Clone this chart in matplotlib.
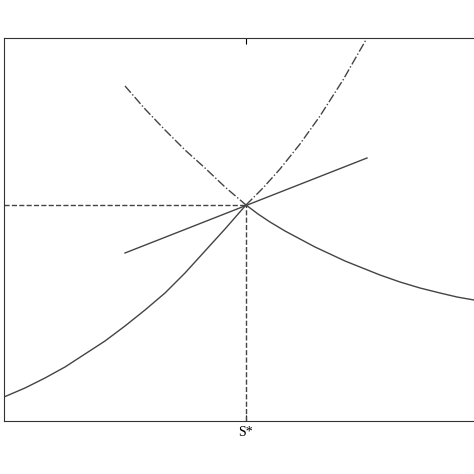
import matplotlib
matplotlib.use("Agg")
import matplotlib.pyplot as plt

# values in pixel-like data units (y measured upward from bottom of axes)
left_x = [4, 25, 45, 65, 85, 105, 125, 145, 165, 185, 205, 225, 246]
left_y = [24, 33, 43, 54, 67, 80, 95, 111, 128, 148, 170, 192, 216]
right_x = [246, 258, 270, 285, 300, 315, 330, 345, 360, 380, 400, 420, 440, 457, 474]
right_y = [216, 207, 199, 190, 182, 174, 167, 160, 154, 146, 139, 133, 128, 124, 121]
lin_x = [125, 367]
lin_y = [168, 263]
dd_left_x = [125, 145, 165, 185, 205, 225, 246]
dd_left_y = [335, 312, 291, 271, 253, 234, 216]
dd_right_x = [246, 263, 280, 300, 320, 343, 367]
dd_right_y = [216, 233, 252, 277, 305, 341, 383]
s_star = 246
s_level = 216
xticks = [246]
xlabels = ["S*"]

fig = plt.figure(figsize=(4.74, 4.74), dpi=100)
ax = fig.add_axes([4/474, 53/474, 476/474, 383/474])
ax.set_xlim(4, 480)
ax.set_ylim(0, 383)
c = "#444444"
ax.plot(left_x, left_y, color=c, lw=1)
ax.plot(right_x, right_y, color=c, lw=1)
ax.plot(lin_x, lin_y, color=c, lw=1)
ax.plot(dd_left_x, dd_left_y, color=c, lw=1, ls="-.")
ax.plot(dd_right_x, dd_right_y, color=c, lw=1, ls="-.")
ax.plot([4, s_star], [s_level, s_level], color=c, lw=1, ls="--")
ax.plot([s_star, s_star], [0, s_level], color=c, lw=1, ls="--")
ax.set_xticks(xticks)
ax.set_xticklabels(xlabels, family="Liberation Serif", fontsize=10)
ax.set_yticks([])
ax.tick_params(axis="x", top=True, direction="in", length=4)
for s in ax.spines.values():
    s.set_color("#333333")
fig.savefig("out.png", dpi=100)
